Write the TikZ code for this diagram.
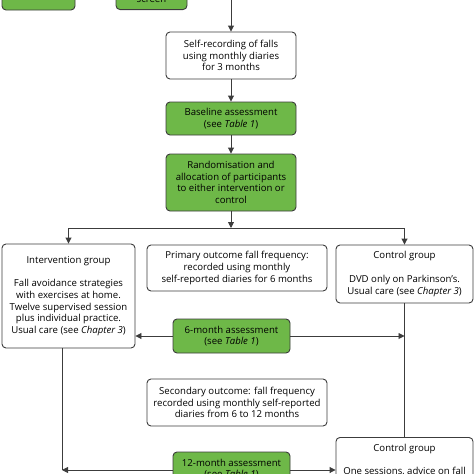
\documentclass[tikz,border=0pt]{standalone}
\usepackage{fontspec}
\setmainfont{Open Sans}
\usetikzlibrary{arrows.meta}
\definecolor{boxgreen}{RGB}{110,184,72}
\definecolor{linegray}{RGB}{60,60,60}
\tikzset{
  box/.style={draw=linegray, line width=0.9pt, rounded corners=4pt, align=center,
    inner sep=2pt, font=\fontsize{9.6}{11.7}\selectfont},
  greenbox/.style={box, fill=boxgreen},
  whitebox/.style={box, fill=white},
  flow/.style={draw=linegray, line width=0.9pt},
  arr/.style={flow, -{Triangle[length=6pt,width=6pt]}}
}
\begin{document}
\begin{tikzpicture}[x=1pt,y=-1pt]
  \useasboundingbox (0,0) rectangle (474,474);
  % top row (cut by the page edge)
  \node[greenbox, minimum width=73pt, minimum height=40pt] (elig) at (38.5,-10) {};
  \node[greenbox, minimum width=71pt, text height=28pt, text depth=5pt, inner ysep=2pt, anchor=south] (screen) at (151.5,10) {screen};
  \coordinate (intop) at (231,-10);
  % main column
  \node[whitebox, minimum width=130pt, minimum height=47pt] (rec) at (231,55.5)
    {Self-recording of falls\\using monthly diaries\\for 3 months};
  \node[greenbox, minimum width=130pt, minimum height=33pt] (base) at (231,118.5)
    {Baseline assessment\\(see \textit{Table 1})};
  \node[greenbox, minimum width=130pt, minimum height=57pt] (rand) at (231,182.5)
    {Randomisation and\\allocation of participants\\to either intervention or\\control};
  \coordinate (split) at (231,228);
  % groups
  \node[whitebox, minimum width=133pt, minimum height=104pt] (int) at (68.5,296)
    {Intervention group\\[11.7pt]Fall avoidance strategies\\with exercises at home.\\Twelve supervised session\\plus individual practice.\\Usual care (see \textit{Chapter 3})};
  \node[whitebox, minimum width=180pt, minimum height=46pt] (prim) at (237,268)
    {Primary outcome fall frequency:\\recorded using monthly\\self-reported diaries for 6 months};
  \node[whitebox, minimum width=137pt, minimum height=58pt] (ctrl) at (404.5,274)
    {Control group\\[11.7pt]DVD only on Parkinson’s.\\Usual care (see \textit{Chapter 3})};
  \node[greenbox, minimum width=117pt, minimum height=34pt] (six) at (231.5,336)
    {6-month assessment\\(see \textit{Table 1})};
  \node[whitebox, minimum width=180pt, minimum height=47pt] (sec) at (237,402.5)
    {Secondary outcome: fall frequency\\recorded using monthly self-reported\\diaries from 6 to 12 months};
  \node[greenbox, minimum width=117pt, minimum height=34pt] (twelve) at (231.5,469)
    {12-month assessment\\(see \textit{Table 1})};
  \node[whitebox, minimum width=137pt, minimum height=45pt, anchor=north, inner ysep=4pt] (ctrltwo) at (404.5,437)
    {Control group\\[11.7pt]One sessions, advice on fall};
  \coordinate (intdown) at (62,470);
  % connectors
  \draw[arr] (intop) -- (rec);
  \draw[arr] (rec) -- (base);
  \draw[arr] (base) -- (rand);
  \draw[arr] (rand) -- (split);
  \draw[flow] (int.north |- split) -- (ctrl.north |- split);
  \draw[arr] (int.north |- split) -- (int);
  \draw[arr] (ctrl.north |- split) -- (ctrl);
  \draw[arr] (six) -- (six -| int.east);
  \draw[arr] (six) -- (six -| ctrl);
  \draw[flow] (ctrl) -- (ctrltwo);
  \draw[flow] (int.south -| intdown) -- (intdown);
  \draw[arr] (twelve.west |- intdown) -- (intdown);
  \draw[arr] (twelve.east |- intdown) -- (ctrltwo.west |- intdown);
\end{tikzpicture}
\end{document}
